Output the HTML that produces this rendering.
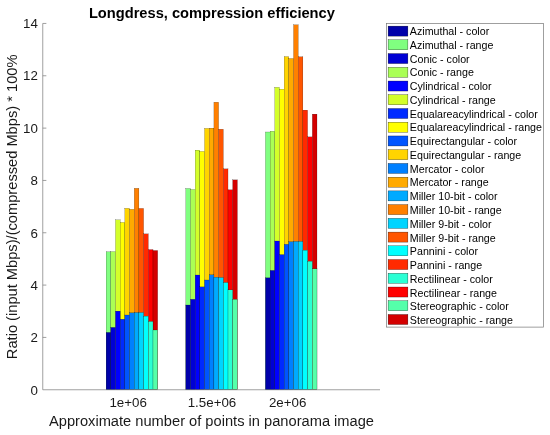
<!DOCTYPE html><html><head><meta charset="utf-8"><title>Longdress, compression efficiency</title><style>
html,body{margin:0;padding:0;background:#fff}
body{width:550px;height:435px;position:relative;overflow:hidden;font-family:"Liberation Sans",Arial,sans-serif;color:#1a1a1a}
.t{position:absolute;left:0;top:0;white-space:nowrap;line-height:1;transform-origin:0 0}
.title{font-weight:bold;color:#000}
.lt{color:#000}

</style></head><body>
<svg width="550" height="435" viewBox="0 0 550 435" style="position:absolute;left:0;top:0">
<rect width="550" height="435" fill="#fff"/>
<rect x="106.10" y="251.80" width="4.69" height="137.95" fill="#80ff80" stroke="#000" stroke-width="0.18"/>
<rect x="110.79" y="251.60" width="4.69" height="138.15" fill="#aaff55" stroke="#000" stroke-width="0.18"/>
<rect x="115.48" y="219.90" width="4.69" height="169.85" fill="#d4ff2a" stroke="#000" stroke-width="0.18"/>
<rect x="120.17" y="222.40" width="4.69" height="167.35" fill="#ffff00" stroke="#000" stroke-width="0.18"/>
<rect x="124.86" y="208.30" width="4.69" height="181.45" fill="#ffd400" stroke="#000" stroke-width="0.18"/>
<rect x="129.55" y="209.30" width="4.69" height="180.45" fill="#ffaa00" stroke="#000" stroke-width="0.18"/>
<rect x="134.24" y="188.30" width="4.69" height="201.45" fill="#ff8000" stroke="#000" stroke-width="0.18"/>
<rect x="138.93" y="208.40" width="4.69" height="181.35" fill="#ff5500" stroke="#000" stroke-width="0.18"/>
<rect x="143.62" y="233.90" width="4.69" height="155.85" fill="#ff2a00" stroke="#000" stroke-width="0.18"/>
<rect x="148.31" y="249.60" width="4.69" height="140.15" fill="#ff0000" stroke="#000" stroke-width="0.18"/>
<rect x="153.00" y="250.50" width="4.69" height="139.25" fill="#d40000" stroke="#000" stroke-width="0.18"/>
<rect x="106.10" y="332.40" width="4.69" height="57.35" fill="#0000aa" stroke="#000" stroke-width="0.18"/>
<rect x="110.79" y="327.40" width="4.69" height="62.35" fill="#0000d4" stroke="#000" stroke-width="0.18"/>
<rect x="115.48" y="311.10" width="4.69" height="78.65" fill="#0000ff" stroke="#000" stroke-width="0.18"/>
<rect x="120.17" y="319.20" width="4.69" height="70.55" fill="#002aff" stroke="#000" stroke-width="0.18"/>
<rect x="124.86" y="315.00" width="4.69" height="74.75" fill="#0055ff" stroke="#000" stroke-width="0.18"/>
<rect x="129.55" y="312.80" width="4.69" height="76.95" fill="#0080ff" stroke="#000" stroke-width="0.18"/>
<rect x="134.24" y="312.50" width="4.69" height="77.25" fill="#00aaff" stroke="#000" stroke-width="0.18"/>
<rect x="138.93" y="312.50" width="4.69" height="77.25" fill="#00d4ff" stroke="#000" stroke-width="0.18"/>
<rect x="143.62" y="316.10" width="4.69" height="73.65" fill="#00ffff" stroke="#000" stroke-width="0.18"/>
<rect x="148.31" y="321.40" width="4.69" height="68.35" fill="#2affd4" stroke="#000" stroke-width="0.18"/>
<rect x="153.00" y="330.00" width="4.69" height="59.75" fill="#55ffaa" stroke="#000" stroke-width="0.18"/>
<rect x="185.80" y="188.50" width="4.69" height="201.25" fill="#80ff80" stroke="#000" stroke-width="0.18"/>
<rect x="190.49" y="189.50" width="4.69" height="200.25" fill="#aaff55" stroke="#000" stroke-width="0.18"/>
<rect x="195.18" y="150.10" width="4.69" height="239.65" fill="#d4ff2a" stroke="#000" stroke-width="0.18"/>
<rect x="199.87" y="151.40" width="4.69" height="238.35" fill="#ffff00" stroke="#000" stroke-width="0.18"/>
<rect x="204.56" y="128.40" width="4.69" height="261.35" fill="#ffd400" stroke="#000" stroke-width="0.18"/>
<rect x="209.25" y="128.10" width="4.69" height="261.65" fill="#ffaa00" stroke="#000" stroke-width="0.18"/>
<rect x="213.94" y="102.20" width="4.69" height="287.55" fill="#ff8000" stroke="#000" stroke-width="0.18"/>
<rect x="218.63" y="129.20" width="4.69" height="260.55" fill="#ff5500" stroke="#000" stroke-width="0.18"/>
<rect x="223.32" y="168.90" width="4.69" height="220.85" fill="#ff2a00" stroke="#000" stroke-width="0.18"/>
<rect x="228.01" y="189.80" width="4.69" height="199.95" fill="#ff0000" stroke="#000" stroke-width="0.18"/>
<rect x="232.70" y="179.90" width="4.69" height="209.85" fill="#d40000" stroke="#000" stroke-width="0.18"/>
<rect x="185.80" y="305.00" width="4.69" height="84.75" fill="#0000aa" stroke="#000" stroke-width="0.18"/>
<rect x="190.49" y="299.30" width="4.69" height="90.45" fill="#0000d4" stroke="#000" stroke-width="0.18"/>
<rect x="195.18" y="275.00" width="4.69" height="114.75" fill="#0000ff" stroke="#000" stroke-width="0.18"/>
<rect x="199.87" y="286.90" width="4.69" height="102.85" fill="#002aff" stroke="#000" stroke-width="0.18"/>
<rect x="204.56" y="280.00" width="4.69" height="109.75" fill="#0055ff" stroke="#000" stroke-width="0.18"/>
<rect x="209.25" y="274.80" width="4.69" height="114.95" fill="#0080ff" stroke="#000" stroke-width="0.18"/>
<rect x="213.94" y="277.20" width="4.69" height="112.55" fill="#00aaff" stroke="#000" stroke-width="0.18"/>
<rect x="218.63" y="277.50" width="4.69" height="112.25" fill="#00d4ff" stroke="#000" stroke-width="0.18"/>
<rect x="223.32" y="282.50" width="4.69" height="107.25" fill="#00ffff" stroke="#000" stroke-width="0.18"/>
<rect x="228.01" y="289.90" width="4.69" height="99.85" fill="#2affd4" stroke="#000" stroke-width="0.18"/>
<rect x="232.70" y="299.30" width="4.69" height="90.45" fill="#55ffaa" stroke="#000" stroke-width="0.18"/>
<rect x="265.40" y="132.00" width="4.69" height="257.75" fill="#80ff80" stroke="#000" stroke-width="0.18"/>
<rect x="270.09" y="131.20" width="4.69" height="258.55" fill="#aaff55" stroke="#000" stroke-width="0.18"/>
<rect x="274.78" y="87.30" width="4.69" height="302.45" fill="#d4ff2a" stroke="#000" stroke-width="0.18"/>
<rect x="279.47" y="89.20" width="4.69" height="300.55" fill="#ffff00" stroke="#000" stroke-width="0.18"/>
<rect x="284.16" y="56.60" width="4.69" height="333.15" fill="#ffd400" stroke="#000" stroke-width="0.18"/>
<rect x="288.85" y="58.50" width="4.69" height="331.25" fill="#ffaa00" stroke="#000" stroke-width="0.18"/>
<rect x="293.54" y="24.80" width="4.69" height="364.95" fill="#ff8000" stroke="#000" stroke-width="0.18"/>
<rect x="298.23" y="56.80" width="4.69" height="332.95" fill="#ff5500" stroke="#000" stroke-width="0.18"/>
<rect x="302.92" y="110.10" width="4.69" height="279.65" fill="#ff2a00" stroke="#000" stroke-width="0.18"/>
<rect x="307.61" y="136.90" width="4.69" height="252.85" fill="#ff0000" stroke="#000" stroke-width="0.18"/>
<rect x="312.30" y="114.10" width="4.69" height="275.65" fill="#d40000" stroke="#000" stroke-width="0.18"/>
<rect x="265.40" y="277.80" width="4.69" height="111.95" fill="#0000aa" stroke="#000" stroke-width="0.18"/>
<rect x="270.09" y="270.40" width="4.69" height="119.35" fill="#0000d4" stroke="#000" stroke-width="0.18"/>
<rect x="274.78" y="241.00" width="4.69" height="148.75" fill="#0000ff" stroke="#000" stroke-width="0.18"/>
<rect x="279.47" y="254.60" width="4.69" height="135.15" fill="#002aff" stroke="#000" stroke-width="0.18"/>
<rect x="284.16" y="244.30" width="4.69" height="145.45" fill="#0055ff" stroke="#000" stroke-width="0.18"/>
<rect x="288.85" y="241.70" width="4.69" height="148.05" fill="#0080ff" stroke="#000" stroke-width="0.18"/>
<rect x="293.54" y="241.40" width="4.69" height="148.35" fill="#00aaff" stroke="#000" stroke-width="0.18"/>
<rect x="298.23" y="241.40" width="4.69" height="148.35" fill="#00d4ff" stroke="#000" stroke-width="0.18"/>
<rect x="302.92" y="250.20" width="4.69" height="139.55" fill="#00ffff" stroke="#000" stroke-width="0.18"/>
<rect x="307.61" y="261.20" width="4.69" height="128.55" fill="#2affd4" stroke="#000" stroke-width="0.18"/>
<rect x="312.30" y="268.90" width="4.69" height="120.85" fill="#55ffaa" stroke="#000" stroke-width="0.18"/>
<path d="M42.75 23.45V389.75H380" fill="none" stroke="#777" stroke-width="0.7"/>
<path d="M42.75 337.42h3.6" stroke="#777" stroke-width="0.7"/>
<path d="M42.75 285.09h3.6" stroke="#777" stroke-width="0.7"/>
<path d="M42.75 232.76h3.6" stroke="#777" stroke-width="0.7"/>
<path d="M42.75 180.44h3.6" stroke="#777" stroke-width="0.7"/>
<path d="M42.75 128.11h3.6" stroke="#777" stroke-width="0.7"/>
<path d="M42.75 75.78h3.6" stroke="#777" stroke-width="0.7"/>
<path d="M42.75 23.45h3.6" stroke="#777" stroke-width="0.7"/>
<rect x="386.4" y="23.5" width="157.2" height="303.6" fill="#fff" stroke="#777" stroke-width="0.7"/>
<rect x="388.1" y="26.10" width="19.8" height="10.0" fill="#0000aa" stroke="#000" stroke-width="0.3"/>
<rect x="388.1" y="39.83" width="19.8" height="10.0" fill="#80ff80" stroke="#000" stroke-width="0.3"/>
<rect x="388.1" y="53.57" width="19.8" height="10.0" fill="#0000d4" stroke="#000" stroke-width="0.3"/>
<rect x="388.1" y="67.30" width="19.8" height="10.0" fill="#aaff55" stroke="#000" stroke-width="0.3"/>
<rect x="388.1" y="81.03" width="19.8" height="10.0" fill="#0000ff" stroke="#000" stroke-width="0.3"/>
<rect x="388.1" y="94.77" width="19.8" height="10.0" fill="#d4ff2a" stroke="#000" stroke-width="0.3"/>
<rect x="388.1" y="108.50" width="19.8" height="10.0" fill="#002aff" stroke="#000" stroke-width="0.3"/>
<rect x="388.1" y="122.23" width="19.8" height="10.0" fill="#ffff00" stroke="#000" stroke-width="0.3"/>
<rect x="388.1" y="135.96" width="19.8" height="10.0" fill="#0055ff" stroke="#000" stroke-width="0.3"/>
<rect x="388.1" y="149.70" width="19.8" height="10.0" fill="#ffd400" stroke="#000" stroke-width="0.3"/>
<rect x="388.1" y="163.43" width="19.8" height="10.0" fill="#0080ff" stroke="#000" stroke-width="0.3"/>
<rect x="388.1" y="177.16" width="19.8" height="10.0" fill="#ffaa00" stroke="#000" stroke-width="0.3"/>
<rect x="388.1" y="190.90" width="19.8" height="10.0" fill="#00aaff" stroke="#000" stroke-width="0.3"/>
<rect x="388.1" y="204.63" width="19.8" height="10.0" fill="#ff8000" stroke="#000" stroke-width="0.3"/>
<rect x="388.1" y="218.36" width="19.8" height="10.0" fill="#00d4ff" stroke="#000" stroke-width="0.3"/>
<rect x="388.1" y="232.09" width="19.8" height="10.0" fill="#ff5500" stroke="#000" stroke-width="0.3"/>
<rect x="388.1" y="245.83" width="19.8" height="10.0" fill="#00ffff" stroke="#000" stroke-width="0.3"/>
<rect x="388.1" y="259.56" width="19.8" height="10.0" fill="#ff2a00" stroke="#000" stroke-width="0.3"/>
<rect x="388.1" y="273.29" width="19.8" height="10.0" fill="#2affd4" stroke="#000" stroke-width="0.3"/>
<rect x="388.1" y="287.03" width="19.8" height="10.0" fill="#ff0000" stroke="#000" stroke-width="0.3"/>
<rect x="388.1" y="300.76" width="19.8" height="10.0" fill="#55ffaa" stroke="#000" stroke-width="0.3"/>
<rect x="388.1" y="314.49" width="19.8" height="10.0" fill="#d40000" stroke="#000" stroke-width="0.3"/>
</svg>
<div class="t title" style="font-size:14.67px;transform:translate(88.90px,6.10px) rotate(0.02deg)">Longdress, compression efficiency</div>
<div class="t" style="font-size:13.33px;transform:translate(37.90px,383.78px) translateX(-100%) rotate(0.02deg)">0</div>
<div class="t" style="font-size:13.33px;transform:translate(37.90px,331.36px) translateX(-100%) rotate(0.02deg)">2</div>
<div class="t" style="font-size:13.33px;transform:translate(37.90px,278.93px) translateX(-100%) rotate(0.02deg)">4</div>
<div class="t" style="font-size:13.33px;transform:translate(37.90px,226.50px) translateX(-100%) rotate(0.02deg)">6</div>
<div class="t" style="font-size:13.33px;transform:translate(37.90px,174.07px) translateX(-100%) rotate(0.02deg)">8</div>
<div class="t" style="font-size:13.33px;transform:translate(37.90px,121.64px) translateX(-100%) rotate(0.02deg)">10</div>
<div class="t" style="font-size:13.33px;transform:translate(37.90px,69.21px) translateX(-100%) rotate(0.02deg)">12</div>
<div class="t" style="font-size:13.33px;transform:translate(37.90px,16.78px) translateX(-100%) rotate(0.02deg)">14</div>
<div class="t" style="font-size:13.33px;transform:translate(109.40px,396.05px) rotate(0.02deg)">1e+06</div>
<div class="t" style="font-size:13.33px;transform:translate(187.70px,396.05px) rotate(0.02deg)">1.5e+06</div>
<div class="t" style="font-size:13.33px;transform:translate(268.90px,396.05px) rotate(0.02deg)">2e+06</div>
<div class="t" style="font-size:14.67px;transform:translate(211.50px,414.10px) translateX(-50%) rotate(0.02deg)">Approximate number of points in panorama image</div>
<div class="t" style="font-size:14.67px;transform:translate(12.7px,206.85px) translate(-50%,-50%) rotate(-90deg);transform-origin:50% 50%">Ratio (input Mbps)/(compressed Mbps) * 100%</div>
<div class="t lt" style="font-size:10.67px;transform:translate(409.85px,26.10px) rotate(0.02deg)">Azimuthal - color</div>
<div class="t lt" style="font-size:10.67px;transform:translate(409.85px,39.86px) rotate(0.02deg)">Azimuthal - range</div>
<div class="t lt" style="font-size:10.67px;transform:translate(409.85px,53.62px) rotate(0.02deg)">Conic - color</div>
<div class="t lt" style="font-size:10.67px;transform:translate(409.85px,67.38px) rotate(0.02deg)">Conic - range</div>
<div class="t lt" style="font-size:10.67px;transform:translate(409.85px,81.14px) rotate(0.02deg)">Cylindrical - color</div>
<div class="t lt" style="font-size:10.67px;transform:translate(409.85px,94.90px) rotate(0.02deg)">Cylindrical - range</div>
<div class="t lt" style="font-size:10.67px;transform:translate(409.85px,108.66px) rotate(0.02deg)">Equalareacylindrical - color</div>
<div class="t lt" style="font-size:10.67px;transform:translate(409.85px,122.42px) rotate(0.02deg)">Equalareacylindrical - range</div>
<div class="t lt" style="font-size:10.67px;transform:translate(409.85px,136.18px) rotate(0.02deg)">Equirectangular - color</div>
<div class="t lt" style="font-size:10.67px;transform:translate(409.85px,149.94px) rotate(0.02deg)">Equirectangular - range</div>
<div class="t lt" style="font-size:10.67px;transform:translate(409.85px,163.70px) rotate(0.02deg)">Mercator - color</div>
<div class="t lt" style="font-size:10.67px;transform:translate(409.85px,177.46px) rotate(0.02deg)">Mercator - range</div>
<div class="t lt" style="font-size:10.67px;transform:translate(409.85px,191.22px) rotate(0.02deg)">Miller 10-bit - color</div>
<div class="t lt" style="font-size:10.67px;transform:translate(409.85px,204.98px) rotate(0.02deg)">Miller 10-bit - range</div>
<div class="t lt" style="font-size:10.67px;transform:translate(409.85px,218.74px) rotate(0.02deg)">Miller 9-bit - color</div>
<div class="t lt" style="font-size:10.67px;transform:translate(409.85px,232.50px) rotate(0.02deg)">Miller 9-bit - range</div>
<div class="t lt" style="font-size:10.67px;transform:translate(409.85px,246.26px) rotate(0.02deg)">Pannini - color</div>
<div class="t lt" style="font-size:10.67px;transform:translate(409.85px,260.02px) rotate(0.02deg)">Pannini - range</div>
<div class="t lt" style="font-size:10.67px;transform:translate(409.85px,273.78px) rotate(0.02deg)">Rectilinear - color</div>
<div class="t lt" style="font-size:10.67px;transform:translate(409.85px,287.54px) rotate(0.02deg)">Rectilinear - range</div>
<div class="t lt" style="font-size:10.67px;transform:translate(409.85px,301.30px) rotate(0.02deg)">Stereographic - color</div>
<div class="t lt" style="font-size:10.67px;transform:translate(409.85px,315.06px) rotate(0.02deg)">Stereographic - range</div>
</body></html>
